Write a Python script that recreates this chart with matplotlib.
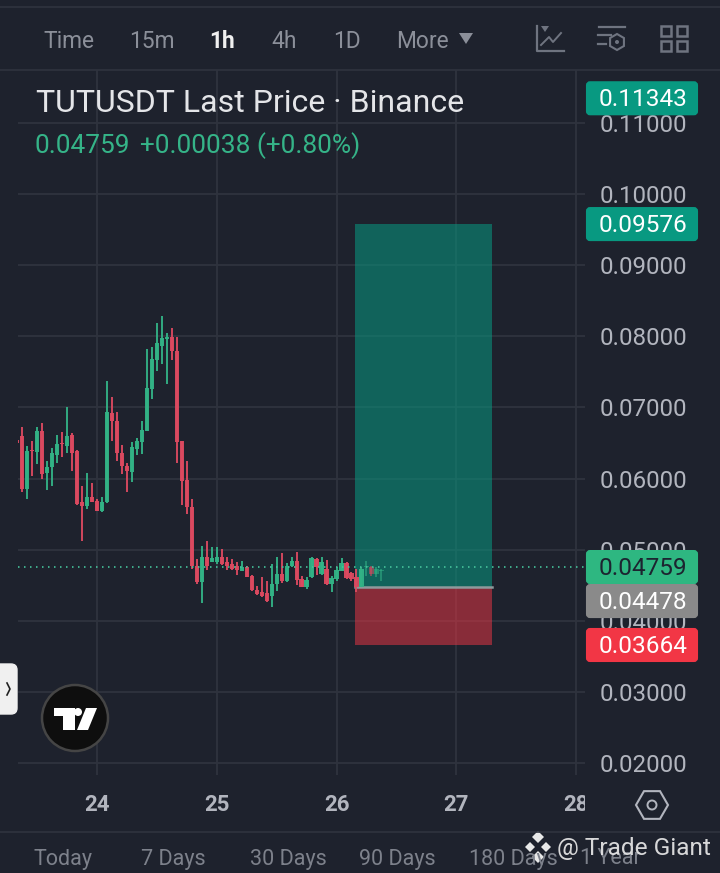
import numpy as np
import matplotlib
matplotlib.use("Agg")
import matplotlib.pyplot as plt
from matplotlib.patches import FancyBboxPatch, Rectangle, Circle, Polygon, RegularPolygon
from matplotlib.transforms import Bbox

plt.rcParams["font.family"] = ["Roboto", "DejaVu Sans"]

BG = "#1e222d"
GRID = "#2f333e"
GREEN = "#33b386"
RED = "#dc4a60"
MUTED = "#8b8f99"
AXIS_TEXT = "#b2b5be"

# hourly candles, first one is cut by the left edge
opens = [.0655, .06606, .05857, .06409, .06372, .06666, .06077, .06161, .06339, .06507, .06456, .06615, .06386,
         .05679, .05623, .05740, .05684, .05543, .05670, .06924, .06816, .06362, .06175, .06100, .06418, .06521,
         .06676, .07261, .07673, .07869, .07963, .07986, .07799, .06526, .05983, .05609, .04780,
         .04554, .04897, .04826, .04826, .04906, .04826, .04803, .04779, .04709, .04756, .04638, .04436, .04413,
         .04389, .04357, .04521, .04662, .04568, .04770, .04850, .04591, .04483, .04615, .04873, .04662, .04732,
         .04521, .04591, .04709, .04812, .04671, .04624, .04483, .04756, .04756, .04662, .04699]
highs = [.06606, .06723, .06465, .06535, .06732, .06779, .06255, .06432, .06615, .06662, .07003, .06638, .06404,
         .05904, .06082, .05936, .05716, .05740, .07368, .07144, .06933, .06479, .06217, .06521, .06573, .06816,
         .07822, .07846, .08183, .08281, .08047, .08117, .07986, .06535, .06255, .05716, .04874,
         .05061, .05122, .05047, .05037, .05014, .04906, .04873, .04826, .04850, .04779, .04652, .04497, .04615,
         .04568, .04803, .04906, .04958, .04812, .04897, .04976, .04638, .04615, .04897, .04887, .04897, .04859,
         .04638, .04756, .04887, .04826, .04685, .04732, .04756, .04840, .04779, .04756, .04732]
lows = [.06489, .05810, .05716, .06044, .06208, .05997, .05843, .05904, .06222, .06311, .06362, .06105, .05637,
        .05131, .05576, .05670, .05543, .05529, .05660, .06526, .06255, .06067, .05810, .05960, .06339, .06348,
        .06666, .07120, .07518, .07612, .07331, .07668, .06217, .05637, .05506, .04734, .04523,
        .04253, .04718, .04826, .04803, .04793, .04718, .04718, .04652, .04709, .04624, .04427, .04371, .04333,
        .04263, .04192, .04418, .04535, .04544, .04756, .04512, .04474, .04451, .04605, .04652, .04652, .04512,
        .04408, .04568, .04709, .04591, .04568, .04404, .04474, .04638, .04638, .04615, .04568]
closes = [.0650, .05857, .06395, .06386, .06666, .06067, .06170, .06358, .06489, .06484, .06606, .06358, .05646,
          .05623, .05749, .05679, .05553, .05670, .06933, .06816, .06358, .06175, .06105, .06442, .06526, .06690,
          .07275, .07682, .07902, .07972, .07996, .07790, .06521, .05974, .05599, .04771, .04547,
          .04897, .04779, .04887, .04906, .04803, .04779, .04732, .04718, .04765, .04624, .04436, .04380, .04357,
          .04286, .04521, .04662, .04558, .04779, .04840, .04577, .04483, .04577, .04887, .04765, .04826, .04521,
          .04605, .04718, .04812, .04605, .04591, .04474, .04732, .04779, .04662, .04732, .04718]

price_ticks = [0.02, 0.03, 0.04, 0.05, 0.06, 0.07, 0.08, 0.09, 0.10, 0.11]
day_ticks = [24, 25, 26, 27, 28]

last_price = 0.04759
position_start, position_end = 26.154, 27.30
target_price = 0.09576
entry_price = 0.04478
stop_price = 0.03664
top_price = 0.11343

timeframes = ["Time", "15m", "1h", "4h", "1D", "More"]
timeframe_x = [43, 129, 209, 271, 333, 396]
ranges = ["Today", "7 Days", "30 Days", "90 Days", "180 Days", "1 Year"]
range_x = [33, 141, 250, 359, 469, 580]

fig = plt.figure(figsize=(7.2, 8.73), dpi=100, facecolor=BG)

# price chart, pixel box 18..585 x 70..775
ax = fig.add_axes([18 / 720, 1 - 775 / 873, 567 / 720, 705 / 873], facecolor=BG)
ax.set_xlim(23.34, 28.075)
ax.set_ylim(0.01838, 0.1174)
for s in ax.spines.values():
    s.set_visible(False)
ax.grid(True, color=GRID, linewidth=1.3)
ax.set_axisbelow(True)

# position box
ax.add_patch(Rectangle((position_start, entry_price), position_end - position_start,
                       target_price - entry_price, facecolor="#089981", alpha=0.55, linewidth=0, zorder=1.5))
ax.add_patch(Rectangle((position_start, stop_price), position_end - position_start,
                       entry_price - stop_price, facecolor="#f23645", alpha=0.5, linewidth=0, zorder=1.5))
ax.plot([position_start, position_end], [entry_price, entry_price], color="#8d9a9c", linewidth=1.8, zorder=1.6)

# candles
o = np.array(opens)
h = np.array(highs)
l = np.array(lows)
c = np.array(closes)
x = 24 + (np.arange(len(c)) - 16) / 24
colors = [GREEN if cl >= op else RED for op, cl in zip(o, c)]
alphas = [0.95] * (len(c) - 4) + [0.55] * 4
body_w = 4.2 / 119.75
for xi, op, hi, lo, cl, col, a in zip(x, o, h, l, c, colors, alphas):
    ax.vlines(xi, lo, hi, color=col, linewidth=1.4, alpha=a, zorder=3)
    ax.bar(xi, abs(cl - op), bottom=min(op, cl), width=body_w, color=col, alpha=a, linewidth=0, zorder=3)

ax.axhline(last_price, color="#46c59c", linewidth=1.2, linestyle=(0, (0.9, 2.7)), zorder=4)

# axes labels
ax.yaxis.tick_right()
ax.set_yticks(price_ticks)
ax.set_yticklabels([f"{p:.5f}" for p in price_ticks], fontsize=17.4, color=AXIS_TEXT)
ax.set_xticks(day_ticks)
ax.set_xticklabels([str(d) for d in day_ticks], fontsize=16, fontweight="bold", color=AXIS_TEXT)
ax.tick_params(axis="y", length=0, pad=10.5)
ax.tick_params(axis="x", length=0, pad=14)
clip = Bbox([[0, 0], [585, 873]])
for lab in ax.get_xticklabels():
    lab.set_clip_on(True)
    lab.set_clip_box(clip)

# everything around the chart is laid out in screen pixels
ui = fig.add_axes([0, 0, 1, 1], facecolor="none", zorder=10)
ui.set_xlim(0, 720)
ui.set_ylim(873, 0)
ui.axis("off")

for y in [7, 70, 832]:
    ui.plot([0, 720], [y, y], color=GRID, linewidth=1.2)

for name, tx in zip(timeframes, timeframe_x):
    active = name == "1h"
    ui.text(tx, 41, name, fontsize=16.4, va="center", color="#f0f0f0" if active else MUTED,
            fontweight="bold" if active else "normal")
ui.add_patch(Polygon([[459, 33], [473, 33], [466, 44]], facecolor=MUTED, linewidth=0))

# toolbar icons
ICON = "#6f7480"
ui.plot([537, 537, 564], [26, 51, 51], color=ICON, linewidth=1.6)
ui.plot([541, 549, 553, 561], [45, 37, 42, 33], color=ICON, linewidth=1.4)
ui.add_patch(Polygon([[541, 26], [549, 26], [545, 32]], facecolor=ICON, linewidth=0))
ui.plot([599, 625], [27, 27], color=ICON, linewidth=1.6)
ui.plot([598, 611], [35, 35], color=ICON, linewidth=1.6)
ui.plot([598, 606], [44, 44], color=ICON, linewidth=1.6)
ui.add_patch(RegularPolygon((617, 42), 6, radius=8, facecolor="none", edgecolor=ICON, linewidth=1.5))
ui.add_patch(Circle((617, 42), 2, facecolor=ICON, linewidth=0))
for bx in [661, 677]:
    for by in [26, 41]:
        ui.add_patch(Rectangle((bx, by), 10, 10, facecolor="none", edgecolor=ICON, linewidth=1.8))

ui.text(36, 104, "TUTUSDT Last Price · Binance", fontsize=23, va="center", color="#e4e5e8")
ui.text(35, 146, f"{last_price:.5f}", fontsize=18.9, va="center", color="#35b488")
ui.text(140, 146, "+0.00038 (+0.80%)", fontsize=18.9, va="center", color="#35b488")


def badge(price, color, text_color="white", shift=0):
    y = ax.transData.transform((0, price))[1]
    y = 873 - y + shift
    ui.add_patch(FancyBboxPatch((587, y - 16), 110, 32, boxstyle="round,pad=0,rounding_size=3",
                                facecolor=color, edgecolor=color, linewidth=1.5, zorder=5))
    ui.text(643, y + 1.5, f"{price:.5f}", fontsize=17.6, color=text_color, ha="center", va="center", zorder=6)


badge(top_price, "#089981")
badge(target_price, "#089981")
badge(last_price, "#2eb781", text_color="#1c2430")
badge(entry_price, "#8a8a8a", shift=14)
badge(stop_price, "#f23645")

# side handle and logo
ui.add_patch(FancyBboxPatch((-8, 664), 25, 50, boxstyle="round,pad=0,rounding_size=6",
                            facecolor="#f0f0f0", edgecolor="#f0f0f0", linewidth=1))
ui.plot([7, 10, 7], [683, 689, 695], color="#222222", linewidth=1.2)
ui.add_patch(Circle((75, 718), 33, facecolor="#0e0e0e", edgecolor="#454545", linewidth=1.8))
ui.add_patch(Polygon([[54, 708], [75, 708], [75, 730], [63, 730], [63, 716], [54, 716]], facecolor="white", linewidth=0))
ui.add_patch(Circle((78, 712), 4, facecolor="white", linewidth=0))
ui.add_patch(Polygon([[86, 708], [97, 708], [88, 730], [77, 730]], facecolor="white", linewidth=0))

ui.add_patch(RegularPolygon((652, 805), 6, radius=16, orientation=np.pi / 6, facecolor="none",
                            edgecolor=AXIS_TEXT, linewidth=1.5))
ui.add_patch(Circle((652, 805), 4.5, facecolor="none", edgecolor=AXIS_TEXT, linewidth=1.4))

for name, tx in zip(ranges, range_x):
    ui.text(tx, 859, name, fontsize=15.5, va="center", color="#7d818b")

# watermark
for cx, cy, s in [(538, 837, 6), (530, 847, 5), (546, 847, 5), (538, 857, 6)]:
    ui.add_patch(Polygon([[cx - s, cy], [cx, cy - s], [cx + s, cy], [cx, cy + s]], facecolor="#e8e8e8", linewidth=0))
ui.text(557, 848, "@ Trade Giant", fontsize=17.6, va="center", color="#e8e8e8", alpha=0.92)

fig.savefig("out.png", dpi=100, facecolor=BG)
